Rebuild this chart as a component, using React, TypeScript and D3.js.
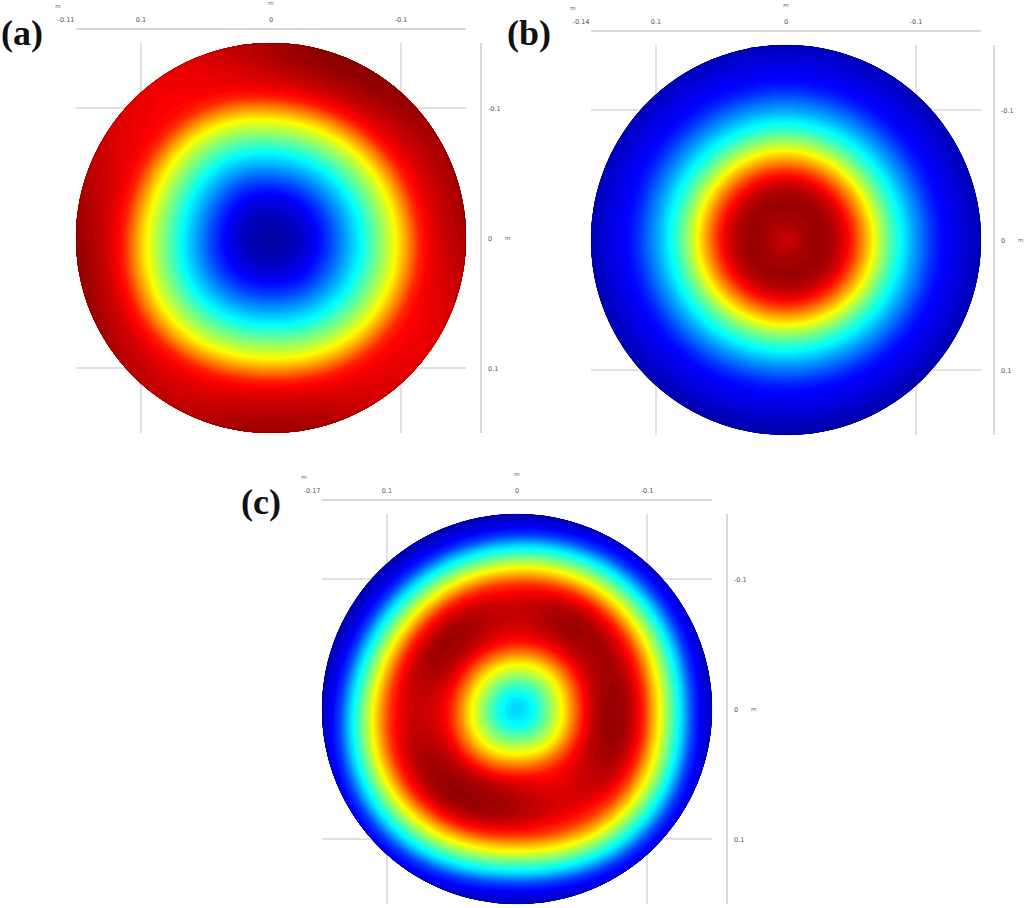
import { useEffect, useRef } from "react"
import * as d3 from "d3"

// panel titles and axis text
const panelNames = ["(a)", "(b)", "(c)"]
const cornerLabels = ["-0.11", "-0.14", "-0.17"]
const xTickValues = [0.1, 0, -0.1]
const xTickLabels = ["0.1", "0", "-0.1"]
const yTickValues = [-0.1, 0, 0.1]
const yTickLabels = ["-0.1", "0", "0.1"]
const unitLabel = "m"

// radial sampling (r / R) and angular sampling (deg, screen coords, clockwise from +x)
const radiusStops = [0, 0.05, 0.1, 0.15, 0.2, 0.25, 0.3, 0.35, 0.4, 0.45, 0.5, 0.55, 0.6, 0.65, 0.7, 0.75, 0.8, 0.85, 0.9, 0.95, 1]
const angleStops = [0, 30, 60, 90, 120, 150, 180, 210, 240, 270, 300, 330]

// normalised field value along the radius (0 = dark blue, 1 = dark red)
const profileA = [0.03, 0.04, 0.05, 0.07, 0.1, 0.14, 0.19, 0.25, 0.31, 0.37, 0.44, 0.51, 0.58, 0.66, 0.75, 0.84, 0.88, 0.9, 0.91, 0.92, 0.93]
const profileB = [0.92, 0.94, 0.96, 0.97, 0.97, 0.95, 0.9, 0.82, 0.72, 0.62, 0.52, 0.43, 0.36, 0.29, 0.23, 0.17, 0.13, 0.11, 0.09, 0.07, 0.05]
const profileC = [0.33, 0.35, 0.4, 0.48, 0.57, 0.66, 0.77, 0.86, 0.91, 0.93, 0.94, 0.93, 0.89, 0.82, 0.7, 0.58, 0.45, 0.33, 0.19, 0.11, 0.06]

// how far the rings reach in each direction (relative)
const shapeA = [1.02, 1.04, 1.03, 0.96, 1.02, 1.06, 1.0, 1.0, 1.03, 0.945, 0.96, 0.99]
const shapeB = [1.0, 1.0, 0.98, 0.96, 0.98, 1.0, 1.01, 1.02, 1.02, 1.02, 1.01, 1.0]
const shapeC = [0.98, 1.04, 1.04, 0.97, 1.04, 1.06, 1.0, 0.97, 0.98, 0.98, 1.02, 1.02]

// darker / lighter patches per direction
const toneA = [0.05, -0.04, 0.0, 0.06, -0.01, 0.05, 0.06, -0.01, -0.05, 0.04, 0.07, 0.02]
const toneB = [0, 0, 0, 0, 0, 0, 0, 0, 0, 0, 0, 0]
const toneC = [0.05, 0.03, -0.05, 0.02, 0.05, 0.03, -0.03, 0.04, 0.03, -0.03, 0.05, 0.01]

// where along the radius the patches show
const toneWeightA = [0, 0, 0, 0, 0, 0, 0, 0, 0, 0, 0, 0, 0, 0, 0, 0.1, 0.3, 0.6, 0.8, 1, 1]
const toneWeightB = [0, 0, 0, 0, 0, 0, 0, 0, 0, 0, 0, 0, 0, 0, 0, 0, 0, 0, 0, 0, 0]
const toneWeightC = [0, 0, 0, 0, 0, 0, 0, 0.3, 0.8, 1, 1, 1, 0.8, 0.4, 0, 0, 0, 0, 0, 0, 0]

const profiles = [profileA, profileB, profileC]
const shapes = [shapeA, shapeB, shapeC]
const tones = [toneA, toneB, toneC]
const toneWeights = [toneWeightA, toneWeightB, toneWeightC]

// layout (pixels)
const layout = [
  { cx: 271, cy: 238, axisGap: 210, titleX: 1, titleY: 45 },
  { cx: 786, cy: 240, axisGap: 208, titleX: 507, titleY: 45 },
  { cx: 517, cy: 709, axisGap: 210, titleX: 241, titleY: 514 },
]
const R = 195
const extent = 0.15

const jet = d3
  .scaleLinear<string>()
  .domain([0, 0.125, 0.375, 0.625, 0.875, 1])
  .range(["#00007f", "#0000ff", "#00ffff", "#ffff00", "#ff0000", "#7f0000"])
  .clamp(true)

export default function App() {
  const svgRef = useRef<SVGSVGElement>(null)

  useEffect(() => {
    if (!svgRef.current) return
    const root = d3.select(svgRef.current)
    root.selectAll("*").remove()

    const defs = root.append("defs")
    const N = 220
    const ext = 1.03
    const cell = (2 * R * ext) / N
    const step = 1 / 96
    const thresholds = d3.range(0, 1, step)

    layout.forEach((L, k) => {
      const g = root.append("g")
      const x = d3.scaleLinear().domain([extent, -extent]).range([L.cx - R, L.cx + R])
      const y = d3.scaleLinear().domain([-extent, extent]).range([L.cy - R, L.cy + R])
      const grid = "#d9d9d9"
      const text = "#555"
      const font = "DejaVu Sans"

      // grid lines behind the disc
      g.selectAll(".vgrid")
        .data(xTickValues)
        .enter()
        .append("line")
        .attr("x1", (d) => x(d))
        .attr("x2", (d) => x(d))
        .attr("y1", L.cy - R)
        .attr("y2", L.cy + R)
        .attr("stroke", grid)
        .attr("stroke-width", 1.5)
      g.selectAll(".hgrid")
        .data(yTickValues)
        .enter()
        .append("line")
        .attr("x1", L.cx - R)
        .attr("x2", L.cx + R)
        .attr("y1", (d) => y(d))
        .attr("y2", (d) => y(d))
        .attr("stroke", grid)
        .attr("stroke-width", 1.5)

      // top axis
      const topY = L.cy - R - 14
      g.append("line")
        .attr("x1", L.cx - R)
        .attr("x2", L.cx + R)
        .attr("y1", topY)
        .attr("y2", topY)
        .attr("stroke", grid)
        .attr("stroke-width", 2)
      g.selectAll(".xt")
        .data(xTickValues)
        .enter()
        .append("text")
        .attr("x", (d) => x(d))
        .attr("y", topY - 7)
        .attr("text-anchor", "middle")
        .attr("font-size", 6.5)
        .attr("font-family", font)
        .attr("fill", text)
        .text((_, i) => xTickLabels[i])
      g.append("text")
        .attr("x", L.cx - R - 10)
        .attr("y", topY - 7)
        .attr("text-anchor", "middle")
        .attr("font-size", 6.5)
        .attr("font-family", font)
        .attr("fill", text)
        .text(cornerLabels[k])
      g.append("text")
        .attr("x", L.cx - R - 18)
        .attr("y", topY - 21)
        .attr("text-anchor", "middle")
        .attr("font-size", 5.5)
        .attr("font-family", font)
        .attr("fill", text)
        .text(unitLabel)
      g.append("text")
        .attr("x", L.cx)
        .attr("y", topY - 24)
        .attr("text-anchor", "middle")
        .attr("font-size", 5.5)
        .attr("font-family", font)
        .attr("fill", text)
        .text(unitLabel)

      // right axis
      const rightX = L.cx + L.axisGap
      g.append("line")
        .attr("x1", rightX)
        .attr("x2", rightX)
        .attr("y1", L.cy - R)
        .attr("y2", L.cy + R)
        .attr("stroke", grid)
        .attr("stroke-width", 2)
      g.selectAll(".yt")
        .data(yTickValues)
        .enter()
        .append("text")
        .attr("x", rightX + 7)
        .attr("y", (d) => y(d) + 2.5)
        .attr("font-size", 6.5)
        .attr("font-family", font)
        .attr("fill", text)
        .text((_, i) => yTickLabels[i])
      g.append("text")
        .attr("x", rightX + 24)
        .attr("y", L.cy + 2)
        .attr("font-size", 5.5)
        .attr("font-family", font)
        .attr("fill", text)
        .text(unitLabel)

      // field
      const radial = d3.scaleLinear().domain(radiusStops).range(profiles[k]).clamp(true)
      const weight = d3.scaleLinear().domain(radiusStops).range(toneWeights[k]).clamp(true)
      const shape = d3.interpolateBasisClosed(shapes[k])
      const tone = d3.interpolateBasisClosed(tones[k])
      const turn = angleStops.length * 30
      const values: number[] = new Array(N * N)
      for (let j = 0; j < N; j++) {
        for (let i = 0; i < N; i++) {
          const u = -ext + ((i + 0.5) * 2 * ext) / N
          const v = -ext + ((j + 0.5) * 2 * ext) / N
          const r = Math.hypot(u, v)
          let a = (Math.atan2(v, u) * 180) / Math.PI
          if (a < 0) a += 360
          const t = a / turn
          const re = Math.min(1, r / shape(t))
          const val = radial(re) + tone(t) * weight(re)
          values[i + j * N] = Math.max(0, Math.min(0.999, val))
        }
      }
      const contours = d3.contours().size([N, N]).thresholds(thresholds)(values)
      const path = d3.geoPath(
        d3
          .geoIdentity()
          .scale(cell)
          .translate([L.cx - R * ext, L.cy - R * ext]),
      )

      const clipId = `disc-${k}`
      defs.append("clipPath").attr("id", clipId).append("circle").attr("cx", L.cx).attr("cy", L.cy).attr("r", R)

      const disc = g.append("g").attr("clip-path", `url(#${clipId})`)
      disc
        .selectAll("path")
        .data(contours)
        .enter()
        .append("path")
        .attr("d", (d) => path(d as any) || "")
        .attr("fill", (d) => jet(d.value + step / 2))
        .attr("stroke", (d) => jet(d.value + step / 2))
        .attr("stroke-width", 0.6)

      g.append("circle")
        .attr("cx", L.cx)
        .attr("cy", L.cy)
        .attr("r", R)
        .attr("fill", "none")
        .attr("stroke", "rgba(0,0,0,0.25)")
        .attr("stroke-width", 0.8)

      // panel title
      root
        .append("text")
        .attr("x", L.titleX)
        .attr("y", L.titleY)
        .attr("font-family", "Liberation Serif")
        .attr("font-weight", "bold")
        .attr("font-size", 36)
        .attr("fill", "#111")
        .text(panelNames[k])
    })
  }, [])

  return (
    <div style={{ position: "absolute", left: 0, top: 0, background: "#fff" }}>
      <svg ref={svgRef} width={1025} height={908} style={{ display: "block" }}></svg>
    </div>
  )
}
